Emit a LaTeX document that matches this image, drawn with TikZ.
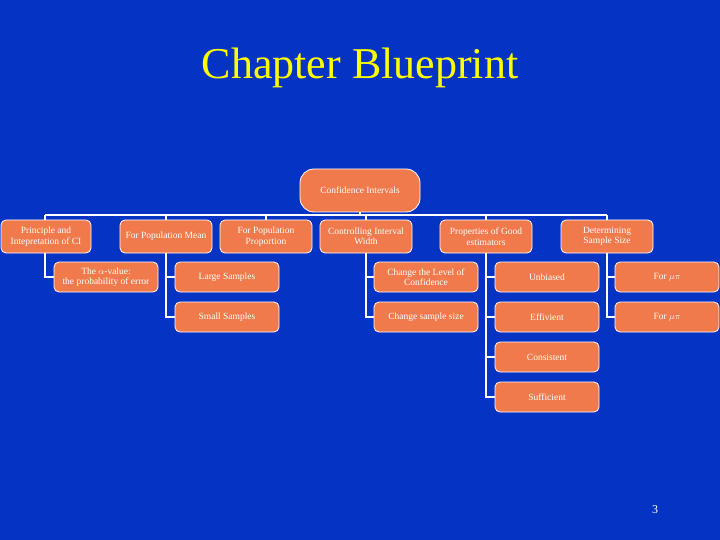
\documentclass[tikz,border=0pt]{standalone}
\usepackage{fontspec}
\setmainfont{Liberation Serif}
\begin{document}
\begin{tikzpicture}[x=1pt,y=-1pt,
  bx/.style={draw=white,line width=0.8pt,fill=boxor,rounded corners=5pt,text=white,font=\fontsize{9.5}{10.5}\selectfont,align=center,inner sep=1pt},
  ln/.style={draw=white,line width=2pt}]
\definecolor{bg}{HTML}{0533C4}
\definecolor{boxor}{HTML}{F07A4C}
\definecolor{ttl}{HTML}{FFFF00}
\fill[bg] (0,0) rectangle (720,540);
\useasboundingbox (0,0) rectangle (720,540);
\node[text=ttl,font=\fontsize{44}{48}\selectfont] (title) at (360,68) {Chapter Blueprint};
\node[text=white,font=\fontsize{12}{14}\selectfont] (pg) at (655,510) {3};
\newcommand{\bxat}[6]{\node[bx,minimum width=#4-#3,minimum height=#6-#5] (#1) at ({(#3+#4)/2},{(#5+#6)/2}) {#2};}
% connectors first
\coordinate (bl) at (45,215); \coordinate (br) at (607,215);
\draw[ln] (bl) -- (br);
\draw[ln] (360,200) -- (360,215);
\foreach \x in {45,166,266,366,486,607} \draw[ln] (\x,215) -- (\x,230);
\draw[ln] (45,240) -- (45,277) -- (60,277);
\draw[ln] (166,240) -- (166,317) -- (180,317); \draw[ln] (166,277) -- (180,277);
\draw[ln] (366,240) -- (366,317) -- (380,317); \draw[ln] (366,277) -- (380,277);
\draw[ln] (486,240) -- (486,397) -- (500,397);
\foreach \y in {277,317,357} \draw[ln] (486,\y) -- (500,\y);
\draw[ln] (607,240) -- (607,317) -- (620,317); \draw[ln] (607,277) -- (620,277);
% nodes
\node[bx,rounded corners=14pt,minimum width=120,minimum height=43] (root) at (360,190.5) {Confidence Intervals};
\bxat{p}{Principle and\\Intepretation of CI}{1}{91}{220}{253}
\bxat{m}{For Population Mean}{120}{212}{220}{253}
\bxat{pp}{For Population\\Proportion}{220}{312}{220}{253}
\bxat{c}{Controlling Interval\\Width}{320}{412}{220}{253}
\bxat{g}{Properties of Good\\estimators}{440}{532}{220}{253}
\bxat{d}{Determining\\Sample Size}{561}{653}{220}{253}
\bxat{a}{The $\alpha$-value:\\the probability of error}{54}{158}{262}{292}
\bxat{ls}{Large Samples}{175}{279}{262}{292}
\bxat{ss}{Small Samples}{175}{279}{302}{332}
\bxat{cl}{Change the Level of\\Confidence}{374}{478}{262}{292}
\bxat{cs}{Change sample size}{374}{478}{302}{332}
\bxat{u}{Unbiased}{495}{599}{262}{292}
\bxat{e}{Effivient}{495}{599}{302}{332}
\bxat{co}{Consistent}{495}{599}{342}{372}
\bxat{su}{Sufficient}{495}{599}{382}{412}
\bxat{f1}{For $\mu\pi$}{615}{719}{262}{292}
\node[bx,minimum width=104,minimum height=30,text height=16,text depth=12] (f2) at (667,317) {For $\mu\pi$};
\end{tikzpicture}
\end{document}
